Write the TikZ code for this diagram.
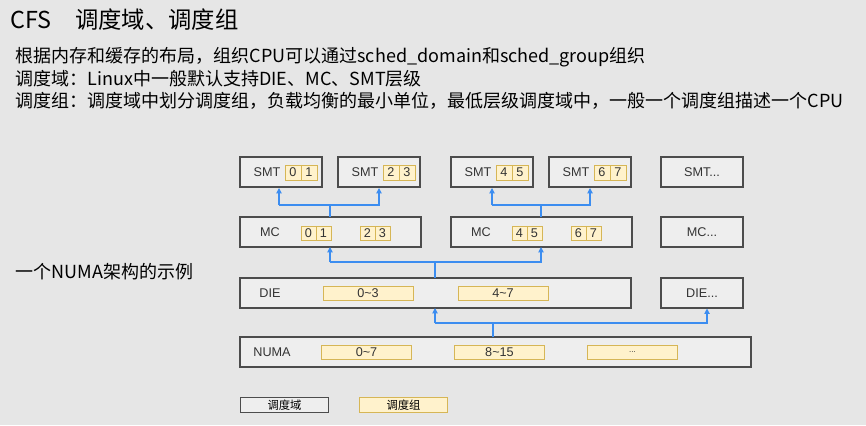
\documentclass[tikz,border=0pt]{standalone}
\usepackage{fontspec}
\setmainfont{Liberation Sans}
\newfontfamily\cjk{Noto Sans CJK SC}
\usetikzlibrary{arrows.meta}
\definecolor{bg}{HTML}{E6E6E6}
\definecolor{dom}{HTML}{EEEEEE}
\definecolor{grp}{HTML}{FFF2CC}
\definecolor{grpd}{HTML}{D6B656}
\definecolor{arr}{HTML}{3C8DF0}
\tikzset{
 dbox/.style={draw=black!70,fill=dom,line width=0.8pt},
 gbox/.style={draw=grpd,fill=grp,line width=0.6pt},
 lbl/.style={font=\fontsize{9.5}{10}\selectfont,text=black!80},
 arw/.style={draw=arr,line width=0.8pt,-{Triangle[length=4pt,width=4pt]}},
 ln/.style={draw=arr,line width=0.8pt},
 body/.style={anchor=west,font=\cjk\fontsize{13.5}{15}\selectfont},
}
\begin{document}
\begin{tikzpicture}[x=0.75pt,y=-0.75pt]
\fill[bg] (0,0) rectangle (866,425);
\useasboundingbox (0,0) rectangle (866,425);
\node[anchor=west,font=\cjk\fontsize{17.5}{19}\selectfont] (title) at (6,20) {CFS\quad 调度域、调度组};
\node[body] (t1) at (11,57) {根据内存和缓存的布局，组织CPU可以通过sched\_domain和sched\_group组织};
\node[body] (t2) at (11,79) {调度域：Linux中一般默认支持DIE、MC、SMT层级};
\node[body] (t3) at (11,101) {调度组：调度域中划分调度组，负载均衡的最小单位，最低层级调度域中，一般一个调度组描述一个CPU};
\node[body] (t4) at (11,272) {一个NUMA架构的示例};
% SMT
\foreach \n/\x/\a/\b in {s0/240/0/1,s1/338/2/3,s2/451/4/5,s3/549/6/7}{
 \draw[dbox] (\x,157) rectangle (\x+82,187);
 \node[lbl,anchor=east] at (\x+45,172) {SMT};
 \draw[gbox] (\x+45,165) rectangle (\x+61,180);
 \draw[gbox] (\x+61,165) rectangle (\x+77,180);
 \node[lbl] at (\x+53,172.5) {\a};
 \node[lbl] at (\x+69,172.5) {\b};
 \coordinate (\n) at (\x+40,187);
}
\node[dbox,minimum width=61.5pt,minimum height=22.5pt,lbl] (s4) at (702,172) {SMT...};
% MC
\foreach \n/\x/\a/\b/\c/\d in {m0/240/0/1/2/3,m1/451/4/5/6/7}{
 \draw[dbox] (\x,217) rectangle (\x+181,247);
 \node[lbl] at (\x+30,232) {MC};
 \draw[gbox] (\x+61,226) rectangle (\x+76,240);
 \draw[gbox] (\x+76,226) rectangle (\x+91,240);
 \draw[gbox] (\x+120,226) rectangle (\x+135,240);
 \draw[gbox] (\x+135,226) rectangle (\x+150,240);
 \node[lbl] at (\x+68.5,233) {\a};
 \node[lbl] at (\x+83.5,233) {\b};
 \node[lbl] at (\x+127.5,233) {\c};
 \node[lbl] at (\x+142.5,233) {\d};
 \coordinate (\n) at (\x+90,247);
 \coordinate (\n t) at (\x+90,217);
}
\node[dbox,minimum width=61.5pt,minimum height=22.5pt,lbl] (m2) at (702,232) {MC...};
% DIE
\draw[dbox] (240,278) rectangle (631,308);
\node[lbl] at (270,293) {DIE};
\node[gbox,lbl,minimum width=67.5pt,minimum height=10.5pt,inner sep=0pt] (d0) at (368,293) {0\textasciitilde3};
\node[gbox,lbl,minimum width=67.5pt,minimum height=10.5pt,inner sep=0pt] (d1) at (503,293) {4\textasciitilde7};
\coordinate (dtop) at (435,278);
\coordinate (dbot) at (435,308);
\node[dbox,minimum width=61.5pt,minimum height=22.5pt,lbl] (d2) at (702,293) {DIE...};
% NUMA
\draw[dbox] (240,337) rectangle (751,367);
\node[lbl] at (272,352) {NUMA};
\node[gbox,lbl,minimum width=67pt,minimum height=11pt,inner sep=0pt] (n0) at (366.5,352.5) {0\textasciitilde7};
\node[gbox,lbl,minimum width=67pt,minimum height=11pt,inner sep=0pt] (n1) at (499.5,352.5) {8\textasciitilde15};
\node[gbox,lbl,minimum width=67pt,minimum height=11pt,inner sep=0pt,font=\fontsize{6}{7}\selectfont] (n2) at (632.5,352.5) {...};
\coordinate (ntop) at (493,337);
% arrows
\draw[ln] (m0t) -- (330,205);
\draw[arw] (279,205) -- (279,188);
\draw[arw] (279,205) -- (379,205) -- (379,188);
\draw[ln] (m1t) -- (541,205);
\draw[arw] (492,205) -- (492,188);
\draw[arw] (492,205) -- (590,205) -- (590,188);
\draw[ln] (dtop) -- (435,262);
\draw[arw] (330,262) -- (m0);
\draw[arw] (330,262) -- (541,262) -- (m1);
\draw[ln] (ntop) -- (493,323);
\draw[arw] (435,323) -- (dbot);
\draw[arw] (435,323) -- (707,323) -- (d2.south -| 707,0);
% legend
\node[dbox,minimum width=66.5pt,minimum height=11.5pt,inner sep=0pt,font=\cjk\fontsize{8.5}{9}\selectfont] (l0) at (284.5,405) {调度域};
\node[gbox,minimum width=66.5pt,minimum height=11.5pt,inner sep=0pt,font=\cjk\fontsize{8.5}{9}\selectfont] (l1) at (403.5,405) {调度组};
\end{tikzpicture}
\end{document}
